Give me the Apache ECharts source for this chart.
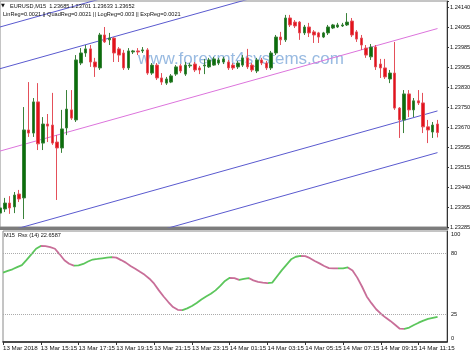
<!DOCTYPE html>
<html>
<head>
<meta charset="utf-8">
<script src="https://cdn.jsdelivr.net/npm/echarts@6/dist/echarts.min.js"></script>
<style>
  html, body { margin: 0; padding: 0; background: #fff; }
  #chart { width: 474px; height: 355px; }
</style>
</head>
<body>
<div id="chart"></div>
<script>
// EURUSD M15, one candle per row: [open, close, low, high]
const candles = [
    [1.23339, 1.23359, 1.23328, 1.23371],
    [1.23355, 1.23378, 1.23343, 1.23398],
    [1.23378, 1.23359, 1.23336, 1.23405],
    [1.23363, 1.23409, 1.23339, 1.23421],
    [1.23413, 1.23394, 1.23382, 1.23429],
    [1.23398, 1.23662, 1.23316, 1.23751],
    [1.23662, 1.23650, 1.23635, 1.23848],
    [1.23650, 1.23771, 1.23635, 1.23786],
    [1.23771, 1.23608, 1.23584, 1.23844],
    [1.23611, 1.23685, 1.23584, 1.23712],
    [1.23685, 1.23677, 1.23615, 1.23724],
    [1.23681, 1.23611, 1.23604, 1.23806],
    [1.23615, 1.23592, 1.23390, 1.23642],
    [1.23592, 1.23666, 1.23573, 1.23740],
    [1.23670, 1.23743, 1.23642, 1.23817],
    [1.23740, 1.23708, 1.23701, 1.23817],
    [1.23701, 1.23934, 1.23693, 1.23953],
    [1.23922, 1.23961, 1.23914, 1.23980],
    [1.23961, 1.23977, 1.23946, 1.23992],
    [1.23977, 1.23926, 1.23907, 1.23992],
    [1.23926, 1.23907, 1.23868, 1.23942],
    [1.23903, 1.24031, 1.23895, 1.24039],
    [1.24031, 1.24004, 1.24000, 1.24062],
    [1.24012, 1.24019, 1.23992, 1.24039],
    [1.24019, 1.23961, 1.23926, 1.24023],
    [1.23977, 1.23953, 1.23926, 1.23984],
    [1.23961, 1.23903, 1.23895, 1.23973],
    [1.23903, 1.23969, 1.23895, 1.23980],
    [1.23965, 1.23969, 1.23957, 1.23973],
    [1.23969, 1.23965, 1.23953, 1.23980],
    [1.23969, 1.23973, 1.23961, 1.23984],
    [1.23973, 1.23883, 1.23876, 1.23980],
    [1.23883, 1.23914, 1.23876, 1.23922],
    [1.23914, 1.23864, 1.23856, 1.23922],
    [1.23864, 1.23848, 1.23837, 1.23883],
    [1.23844, 1.23860, 1.23837, 1.23868],
    [1.23848, 1.23872, 1.23844, 1.23879],
    [1.23879, 1.23907, 1.23872, 1.23914],
    [1.23911, 1.23891, 1.23883, 1.23918],
    [1.23879, 1.23914, 1.23872, 1.23926],
    [1.23911, 1.23914, 1.23903, 1.23922],
    [1.23918, 1.23895, 1.23887, 1.23926],
    [1.23903, 1.23895, 1.23879, 1.23911],
    [1.23911, 1.23914, 1.23879, 1.23938],
    [1.23907, 1.23934, 1.23903, 1.23942],
    [1.23914, 1.23938, 1.23911, 1.23946],
    [1.23922, 1.23934, 1.23914, 1.23942],
    [1.23926, 1.23938, 1.23918, 1.23946],
    [1.23926, 1.23903, 1.23895, 1.23934],
    [1.23914, 1.23903, 1.23895, 1.23922],
    [1.23907, 1.23922, 1.23899, 1.23930],
    [1.23914, 1.23942, 1.23907, 1.23953],
    [1.23942, 1.23907, 1.23899, 1.23977],
    [1.23914, 1.23895, 1.23887, 1.23922],
    [1.23891, 1.23934, 1.23883, 1.23942],
    [1.23934, 1.23922, 1.23914, 1.23942],
    [1.23922, 1.23903, 1.23895, 1.23930],
    [1.23903, 1.23961, 1.23895, 1.23969],
    [1.23961, 1.24023, 1.23953, 1.24031],
    [1.24023, 1.24012, 1.23992, 1.24043],
    [1.24012, 1.24097, 1.24004, 1.24109],
    [1.24097, 1.24070, 1.24062, 1.24109],
    [1.24081, 1.24066, 1.24058, 1.24089],
    [1.24081, 1.24039, 1.24012, 1.24085],
    [1.24039, 1.24062, 1.24031, 1.24070],
    [1.24062, 1.24039, 1.24023, 1.24078],
    [1.24043, 1.24031, 1.24000, 1.24050],
    [1.24039, 1.24023, 1.24000, 1.24043],
    [1.24023, 1.24039, 1.24019, 1.24043],
    [1.24039, 1.24062, 1.24031, 1.24070],
    [1.24058, 1.24070, 1.24054, 1.24074],
    [1.24062, 1.24070, 1.24058, 1.24078],
    [1.24066, 1.24070, 1.24062, 1.24078],
    [1.24070, 1.24081, 1.24066, 1.24116],
    [1.24085, 1.24031, 1.24023, 1.24097],
    [1.24043, 1.24015, 1.24004, 1.24050],
    [1.24019, 1.23992, 1.23973, 1.24031],
    [1.23980, 1.23953, 1.23942, 1.23992],
    [1.23946, 1.23984, 1.23934, 1.23996],
    [1.23984, 1.23907, 1.23895, 1.23992],
    [1.23918, 1.23903, 1.23864, 1.23938],
    [1.23903, 1.23868, 1.23860, 1.23938],
    [1.23860, 1.23883, 1.23844, 1.23895],
    [1.23883, 1.23747, 1.23740, 1.24004],
    [1.23747, 1.23701, 1.23631, 1.23751],
    [1.23701, 1.23802, 1.23650, 1.23817],
    [1.23802, 1.23740, 1.23712, 1.23817],
    [1.23740, 1.23775, 1.23712, 1.23786],
    [1.23775, 1.23767, 1.23759, 1.23817],
    [1.23767, 1.23674, 1.23650, 1.23806],
    [1.23674, 1.23662, 1.23611, 1.23701],
    [1.23654, 1.23681, 1.23631, 1.23693],
    [1.23685, 1.23652, 1.23633, 1.23701]
];

// Rsx(14) per bar
const rsx = [
    62.5, 64, 65.5, 67.5, 69.3, 74, 79, 84, 86.5, 86.3,
    85.5, 84, 79, 73.7, 70.5, 68.8, 69, 70.3, 72.5, 74.3,
    74.8, 75.4, 76, 76.4, 76, 73.8, 71.5, 68.5, 66, 63.2,
    60.5, 57, 52.5, 46.5, 41, 36, 31.5, 29, 28.8, 30.3,
    32.4, 35.2, 38.3, 41, 43.5, 46.5, 50.5, 55, 57.8, 57.5,
    56, 56.8, 57.6, 55.5, 54.2, 53.5, 53, 53.5, 59, 64.5,
    69.5, 74.5, 76.8, 77.6, 77.3, 75.5, 73, 70.8, 68.5, 66.6,
    66.3, 66.3, 66.4, 67.2, 64.5, 58, 50, 41, 35, 29.5,
    25.5, 22, 19, 15.5, 12, 11.8, 13, 15.3, 17.4, 19.3,
    20.8, 21.8, 22.6587
];

// regression channel: centre line at first / last bar, band offsets
const channelBars = [0, 92];
const channelCentre = [1.23580, 1.24056];
const channelOffsets = [0.00482, 0.0032, 0, -0.0032, -0.00482];

const timeLabels = ['13 Mar 2018', '13 Mar 15:15', '13 Mar 17:15', '13 Mar 19:15', '13 Mar 21:15',
    '13 Mar 23:15', '14 Mar 01:15', '14 Mar 03:15', '14 Mar 05:15', '14 Mar 07:15',
    '14 Mar 09:15', '14 Mar 11:15'];
const labelEvery = 8;

const priceLabels = ['1.23285', '1.23365', '1.23440', '1.23515', '1.23595', '1.23670',
    '1.23750', '1.23830', '1.23905', '1.23985', '1.24065', '1.24140'];
const priceMin = 1.23285;
const priceStep = 0.000777;
const priceMax = 1.24163;

const rsiTicks = [0, 25, 80, 100];
const rsiLevels = [80, 25];

const totalSlots = 95;
const slots = Array.from({length: totalSlots}, (_, i) => i);

const FONT = 'Liberation Sans, Arial, sans-serif';
const upColor = '#5cc65c';
const downColor = '#c86e98';

const last = candles[candles.length - 1];
const fmt = v => v.toFixed(5);

// colour each rsx segment by its direction
const pieces = [];
for (let i = 0; i < rsx.length - 1; i++) {
    const color = rsx[i + 1] > rsx[i] ? upColor : downColor;
    const prev = pieces[pieces.length - 1];
    if (prev && prev.color === color) {
        prev.lt = i + 1;
    } else {
        pieces.push({gte: i, lt: i + 1, color: color});
    }
}
pieces[pieces.length - 1].lt = rsx.length + 1;

const channelColors = ['#5a5acf', '#5a5acf', '#dc74dc', '#5a5acf', '#5a5acf'];
const channelSeries = channelOffsets.map((off, k) => ({
    type: 'line',
    xAxisIndex: 0,
    yAxisIndex: 0,
    data: [[channelBars[0], channelCentre[0] + off], [channelBars[1], channelCentre[1] + off]],
    showSymbol: false,
    silent: true,
    z: 1,
    lineStyle: {color: channelColors[k], width: 1}
}));

const showTimeLabel = idx => idx % labelEvery === 0 && idx / labelEvery < timeLabels.length;

const chart = echarts.init(document.getElementById('chart'));
chart.setOption({
    animation: false,
    backgroundColor: '#fff',
    grid: [
        {left: 0, right: 27, top: 1, bottom: 128, show: true, borderColor: '#8a8a8a', borderWidth: 1},
        {left: 0, right: 27, top: 231, bottom: 13, show: true, borderColor: '#8a8a8a', borderWidth: 1}
    ],
    xAxis: [
        {
            type: 'category', gridIndex: 0, data: slots, boundaryGap: false, offset: 1.5,
            axisLine: {lineStyle: {color: '#7c7c7c', width: 3}},
            axisTick: {show: false}, axisLabel: {show: false}, splitLine: {show: false}
        },
        {
            type: 'category', gridIndex: 1, data: slots, boundaryGap: false,
            axisLine: {lineStyle: {color: '#222', width: 1.5}},
            axisTick: {show: true, interval: idx => showTimeLabel(idx), length: 3, lineStyle: {color: '#333'}},
            axisLabel: {
                interval: idx => showTimeLabel(idx),
                formatter: (v, idx) => timeLabels[idx / labelEvery] || '',
                align: 'left', margin: 3, fontSize: 6.2, color: '#111', fontFamily: FONT
            },
            splitLine: {show: false}
        }
    ],
    yAxis: [
        {
            type: 'value', gridIndex: 0, position: 'right', min: priceMin, max: priceMax, interval: priceStep,
            axisLine: {show: true, lineStyle: {color: '#333', width: 1}},
            axisTick: {show: true, length: 2, lineStyle: {color: '#333'}},
            axisLabel: {
                margin: 3, fontSize: 5.6, color: '#111', fontFamily: FONT,
                formatter: v => {
                    const k = Math.round((v - priceMin) / priceStep);
                    const near = Math.abs(v - priceMin - k * priceStep) < priceStep * 0.1;
                    return near && priceLabels[k] ? priceLabels[k] : '';
                }
            },
            splitLine: {show: false}
        },
        {
            type: 'value', gridIndex: 1, position: 'right', min: 0, max: 100, interval: 5,
            axisLine: {show: true, lineStyle: {color: '#333', width: 1}},
            axisTick: {show: false},
            axisLabel: {
                margin: 4, fontSize: 5.6, color: '#111', fontFamily: FONT,
                formatter: v => {
                    if (rsiTicks.indexOf(v) < 0) return '';
                    if (v === 100) return '{t|100}';
                    if (v === 0) return '{b|0}';
                    return String(v);
                },
                rich: {
                    t: {padding: [6, 0, 0, 0], fontSize: 5.6, fontFamily: FONT, color: '#111'},
                    b: {padding: [0, 0, 8, 0], fontSize: 5.6, fontFamily: FONT, color: '#111'}
                }
            },
            splitLine: {show: false}
        }
    ],
    visualMap: {
        type: 'piecewise', show: false, dimension: 0, seriesIndex: 1, pieces: pieces
    },
    series: [
        {
            type: 'candlestick',
            xAxisIndex: 0,
            yAxisIndex: 0,
            data: candles,
            barWidth: 3,
            clip: false,
            z: 3,
            itemStyle: {
                color: '#0b6e0b', color0: '#e3131b',
                borderColor: '#3a823a', borderColor0: '#e4505a', borderWidth: 1
            },
            markLine: {
                silent: true,
                symbol: 'none',
                lineStyle: {opacity: 0},
                label: {
                    show: true, position: 'end', distance: 1,
                    formatter: fmt(last[1]),
                    color: '#fff', backgroundColor: '#000',
                    fontSize: 5.6, fontFamily: FONT, padding: [1, 2, 1, 2]
                },
                data: [{yAxis: last[1]}]
            }
        },
        {
            type: 'line',
            xAxisIndex: 1,
            yAxisIndex: 1,
            data: rsx,
            showSymbol: false,
            smooth: false,
            lineStyle: {width: 1.8},
            markLine: {
                silent: true,
                symbol: 'none',
                label: {show: false},
                lineStyle: {color: '#ababab', type: 'dotted', width: 1},
                data: rsiLevels.map(v => ({yAxis: v}))
            }
        }
    ].concat(channelSeries),
    graphic: [
        {
            type: 'text', left: 138, top: 51, z: 0,
            style: {text: 'www.forexmt4systems.com', fill: 'rgba(112,160,214,0.72)', font: '17px ' + FONT}
        },
        {
            type: 'text', left: 1, top: 3, z: 10,
            style: {text: '\u25BC', fill: '#111', font: '5px DejaVu Sans'}
        },
        {
            type: 'text', left: 10, top: 3, z: 10,
            style: {
                text: 'EURUSD,M15  ' + fmt(last[0]) + ' ' + fmt(last[3]) + ' ' + fmt(last[2]) + ' ' + fmt(last[1]),
                fill: '#111', font: '5.6px ' + FONT
            }
        },
        {
            type: 'text', left: 3, top: 11, z: 10,
            style: {
                text: 'LinReg=0.0021 || QuadReg=0.0021 || LogReg=0.003 || ExpReg=0.0021',
                fill: '#111', font: '5.6px ' + FONT
            }
        },
        {
            type: 'text', left: 4, top: 232, z: 10,
            style: {text: 'M15  Rsx (14) ' + rsx[rsx.length - 1], fill: '#111', font: '5.6px ' + FONT}
        }
    ]
});
</script>
</body>
</html>
